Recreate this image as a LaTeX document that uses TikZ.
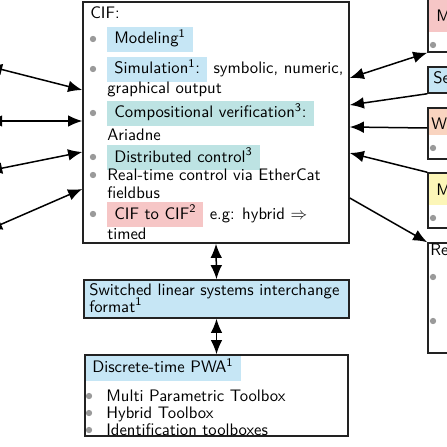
\documentclass[tikz,border=0pt]{standalone}
\usepackage{fontspec}
\usetikzlibrary{arrows.meta, fit, positioning}
\definecolor{hlblue}{HTML}{C6E6F5}
\definecolor{hlteal}{HTML}{BDE3E3}
\definecolor{hlpink}{HTML}{F6C6C6}
\definecolor{hlpeach}{HTML}{F9D4C0}
\definecolor{hlyellow}{HTML}{FCF6B8}
\definecolor{dotgray}{HTML}{9A9A9A}
\definecolor{boxline}{HTML}{222222}
\tikzset{
  toolbox/.style={draw=boxline, line width=0.9pt, inner sep=0pt},
  header/.style={inner sep=0pt, draw=none, fill=#1},
  hl/.style={fill=#1, anchor=base west, inner xsep=4.2pt, inner ysep=2pt,
    text height=8pt, text depth=2.6pt},
  txt/.style={anchor=base west, inner sep=0pt},
  after/.style={anchor=base west, inner ysep=0pt, inner xsep=3.5pt},
  link/.style={line width=0.9pt, -{Latex[length=8.5pt,width=7pt]}},
  twoway/.style={line width=0.9pt, {Latex[length=8.5pt,width=7pt]}-{Latex[length=8.5pt,width=7pt]}},
}
\newcommand{\bdot}[2]{\fill[dotgray] (#1,#2) circle (1.9pt);}
\begin{document}
\begin{tikzpicture}[x=0.6pt, y=-0.6pt, font=\sffamily\fontsize{10}{10}\selectfont]
  \useasboundingbox (0,0) rectangle (447,447);
  \clip (0,0) rectangle (447,447);

  % CIF box and its items
  \node[toolbox, fit={(83,2) (349,243)}] (cif) {};
  \node[txt] (ciftitle) at (90,19) {CIF:};
  \bdot{93}{39} \bdot{93}{69} \bdot{93}{113}
  \bdot{93}{157} \bdot{93}{175} \bdot{93}{214}
  \node[hl=hlblue] (model) at (107,44) {Modeling\textsuperscript{1}};
  \node[hl=hlblue] (sim) at (107,74) {Simulation\textsuperscript{1}:};
  \node[after] (simtxt) at (sim.base east) {symbolic, numeric,};
  \node[txt] (simtxt2) at (107,93) {graphical output};
  \node[hl=hlteal] (verif) at (107,118) {Compositional verification\textsuperscript{3}:};
  \node[txt] (verif2) at (107,140) {Ariadne};
  \node[hl=hlteal] (distr) at (107,162) {Distributed control\textsuperscript{3}};
  \node[txt] (rt) at (107,180) {Real-time control via EtherCat};
  \node[txt] (rt2) at (107,198) {fieldbus};
  \node[hl=hlpink] (cif2cif) at (107,219) {CIF to CIF\textsuperscript{2}};
  \node[after] (cif2ciftxt) at (cif2cif.base east) {e.g: hybrid $\Rightarrow$};
  \node[txt] (cif2cif2) at (107,239) {timed};

  % interchange format
  \node[toolbox, fill=hlblue, fit={(84,280) (349,318)}] (slsif) {};
  \node[txt] (slsiftxt) at (89,295) {Switched linear systems interchange};
  \node[txt] (slsiftxt2) at (89,312) {format\textsuperscript{1}};

  % discrete-time PWA
  \coordinate (dtnw) at (85,355);
  \node[hl=hlblue, anchor=north west, inner ysep=2.5pt] (dthead) at (dtnw) {Discrete-time PWA\textsuperscript{1}};
  \begin{scope}
    \clip (85,355) rectangle (348,436);
    \bdot{89}{396} \bdot{89}{413} \bdot{89}{430}
    \node[txt] (mpt) at (106,401) {Multi Parametric Toolbox};
    \node[txt] (hyb) at (106,418) {Hybrid Toolbox};
    \node[txt] (ident) at (106,435) {Identification toolboxes};
  \end{scope}
  \node[toolbox, fit={(85,355) (348,436)}] (dt) {};

  % boxes on the right
  \node[header=hlpink, fit={(428,-20) (480,32)}] (mhead) {};
  \node[toolbox, fit={(428,-20) (480,52)}] (mbox) {};
  \node[txt] (mtxt) at (436,22) {M};
  \bdot{433}{45}
  \node[toolbox, fill=hlblue, fit={(428,67) (480,93)}] (sebox) {};
  \node[txt] (setxt) at (433,84) {Se};
  \node[header=hlpeach, fit={(428,108) (480,135)}] (whead) {};
  \node[toolbox, fit={(428,108) (480,159)}] (wbox) {};
  \node[txt] (wtxt) at (431,130) {W};
  \bdot{433}{148}
  \node[header=hlyellow, fit={(428,173) (480,205)}] (yhead) {};
  \node[toolbox, fit={(428,173) (480,228)}] (ybox) {};
  \node[txt] (ytxt) at (436,195) {M};
  \bdot{433}{218}
  \node[toolbox, fit={(428,243) (480,353)}] (rebox) {};
  \node[txt] (retxt) at (430,255) {Re};
  \bdot{433}{277} \bdot{433}{321}

  % tools on the left
  \coordinate (in1) at (-12,66);
  \coordinate (in2) at (-12,121);
  \coordinate (in3) at (-12,171);
  \coordinate (in4) at (-12,230);
  \draw[twoway] (in1) -- (cif.west |- 0,90);
  \draw[twoway] (in2) -- (cif.west |- 0,121);
  \draw[twoway] (in3) -- (cif.west |- 0,152);
  \draw[twoway] (in4) -- (cif.west |- 0,189);

  % links to the right
  \draw[twoway] (mbox.south west) -- (cif.east |- 0,78);
  \draw[link] (sebox.south west) -- (cif.east |- 0,105);
  \draw[link] (wbox.west |- 0,128) -- (cif.east |- 0,127);
  \draw[link] (ybox.north west) -- (cif.east |- 0,153);
  \draw[link] (cif.east |- 0,198) -- (rebox.north west);

  % down the chain
  \draw[twoway] (cif.south) -- (slsif.north);
  \draw[twoway] (slsif.south) -- (dt.north);
\end{tikzpicture}
\end{document}
